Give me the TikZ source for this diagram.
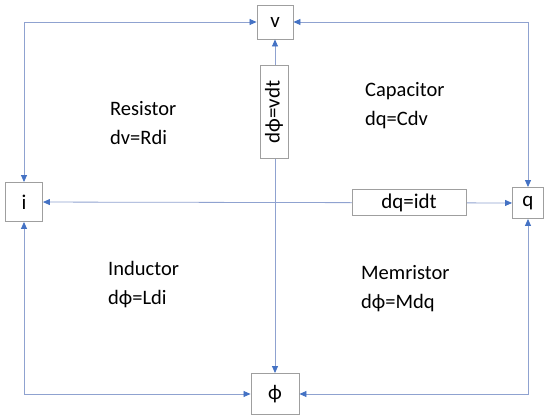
\documentclass[tikz,border=0pt]{standalone}
\usepackage{fontspec}
\setmainfont{Carlito}
\usetikzlibrary{arrows.meta}
\definecolor{linkblue}{HTML}{8FA2D0}
\definecolor{tipblue}{HTML}{4472C4}
\tikzset{varbox/.style={draw=gray!75,line width=0.9pt,fill=white,inner sep=0pt,font=\fontsize{21}{24}\selectfont}}
\tikzset{link/.style={draw=linkblue,line width=0.8pt,{Triangle[length=7pt,width=6pt,color=tipblue]}-{Triangle[length=7pt,width=6pt,color=tipblue]}}}
\tikzset{lawtext/.style={align=left,anchor=base west,inner sep=0pt,font=\fontsize{20.5}{29}\selectfont}}
\begin{document}
\begin{tikzpicture}[x=1pt,y=-1pt]
  \useasboundingbox (0,0) rectangle (550,418);
  % the four variables
  \node (v) at (275,22) [varbox,minimum width=36pt,minimum height=34pt] {v};
  \node (i) at (24,202) [varbox,minimum width=37pt,minimum height=39pt] {i};
  \node (q) at (528,203) [varbox,minimum width=31pt,minimum height=31pt] {q};
  \node (phi) at (275,394) [varbox,minimum width=48pt,minimum height=41pt] {ϕ};
  % outer loops
  \draw [link] (v) -| (i);
  \draw [link] (v) -| (q);
  \draw [link] (i) |- (phi);
  \draw [link] (q) |- (phi);
  % the two axes
  \draw [link] (v) -- (phi);
  \draw [link] (q) -- (i);
  \node (fluxlabel) at (274,112) [varbox,minimum width=93pt,minimum height=28pt,rotate=90] {dϕ=vdt};
  \node (chargelabel) at (409,202.5) [varbox,minimum width=114pt,minimum height=26pt] {dq=idt};
  % element laws
  \node[lawtext] (resistor) at (110,144) {Resistor\\dv=Rdi};
  \node[lawtext] (capacitor) at (365,125) {Capacitor\\dq=Cdv};
  \node[lawtext] (inductor) at (108,304) {Inductor\\dϕ=Ldi};
  \node[lawtext] (memristor) at (361,308) {Memristor\\dϕ=Mdq};
\end{tikzpicture}
\end{document}
